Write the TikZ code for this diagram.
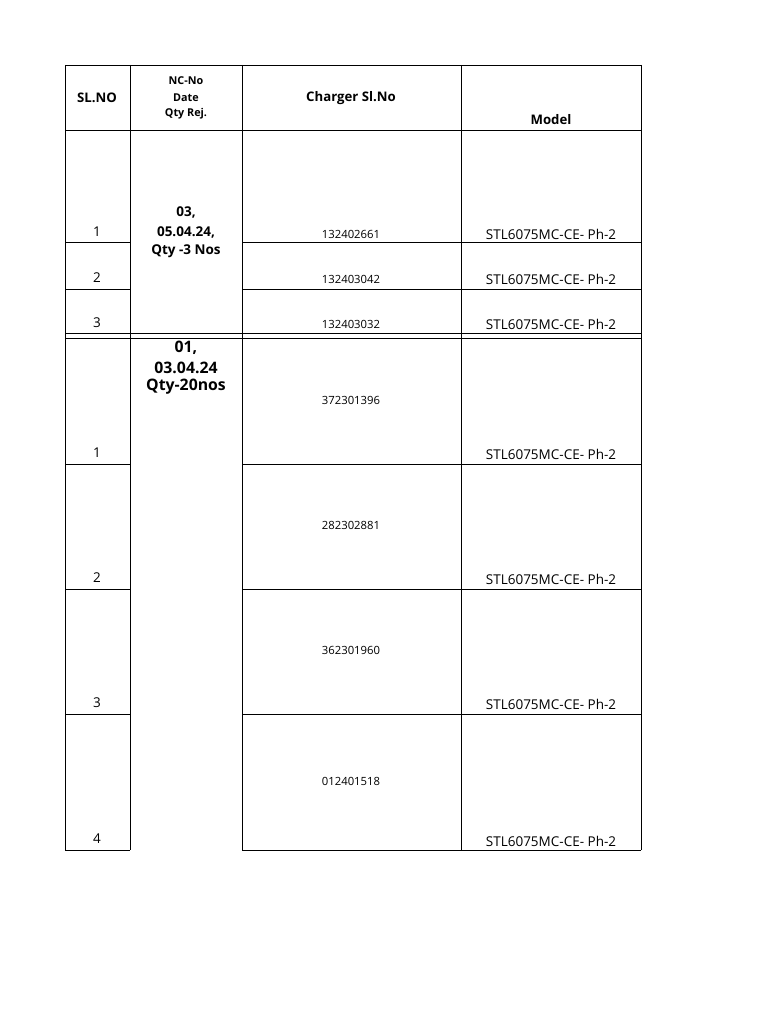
\documentclass[tikz,border=0pt]{standalone}
\usepackage{fontspec}
\setmainfont{Open Sans}
\begin{document}
\begin{tikzpicture}[x=1pt,y=-1pt,line width=0.8pt,
 t/.style={font=\fontsize{13.5}{16}\selectfont,inner sep=0},
 s/.style={font=\fontsize{11.3}{14}\selectfont,inner sep=0},
 hb/.style={font=\bfseries\fontsize{13.2}{16}\selectfont,inner sep=0},
 hs/.style={font=\bfseries\fontsize{10.8}{13}\selectfont,inner sep=0},
 g1/.style={font=\bfseries\fontsize{13.5}{16}\selectfont,inner sep=0},
 g2/.style={font=\bfseries\fontsize{15.8}{19}\selectfont,inner sep=0}]
\useasboundingbox (0,0) rectangle (768,1024);
\draw (65,65) -- (65,850) (130,65) -- (130,850) (242,65) -- (242,850) (461,65) -- (461,850) (641,65) -- (641,850);
\draw (65,65) -- (641,65) (65,130) -- (641,130);
\foreach \y in {242,289,464,589,714} {\draw (65,\y) -- (130,\y) (242,\y) -- (641,\y);}
\draw (65,333) -- (641,333) (65,338) -- (641,338);
\draw (65,850) -- (130,850) (242,850) -- (641,850);
% header
\node[hb] (h1) at (97,98) {SL.NO};
\node[hs] (h2a) at (186,81) {NC-No};
\node[hs] (h2b) at (186,98) {Date};
\node[hs] (h2c) at (186,114) {Qty Rej.};
\node[hb] (h3) at (351,98) {Charger Sl.No};
\node[hb] (h4) at (551,120) {Model};
% groups
\node[g1] (ga1) at (186,212) {03,};
\node[g1] (ga2) at (186,232) {05.04.24,};
\node[g1] (ga3) at (186,251) {Qty -3 Nos};
\node[g2] (gb1) at (186,348) {01,};
\node[g2] (gb2) at (186,368) {03.04.24};
\node[g2] (gb3) at (186,387) {Qty-20nos};
% rows
\foreach \n/\ya/\yb/\yc/\sn in {1/232/234/234/132402661, 2/278/279/279/132403042, 3/323/324/324/132403032,
  1/453/400/454/372301396, 2/578/525/579/282302881, 3/703/650/704/362301960, 4/839/781/841/012401518} {
 \node[t] at (97,\ya) {\n};
 \node[s] at (351,\yb) {\sn};
 \node[t] at (551,\yc) {STL6075MC-CE- Ph-2};
}
\end{tikzpicture}
\end{document}
